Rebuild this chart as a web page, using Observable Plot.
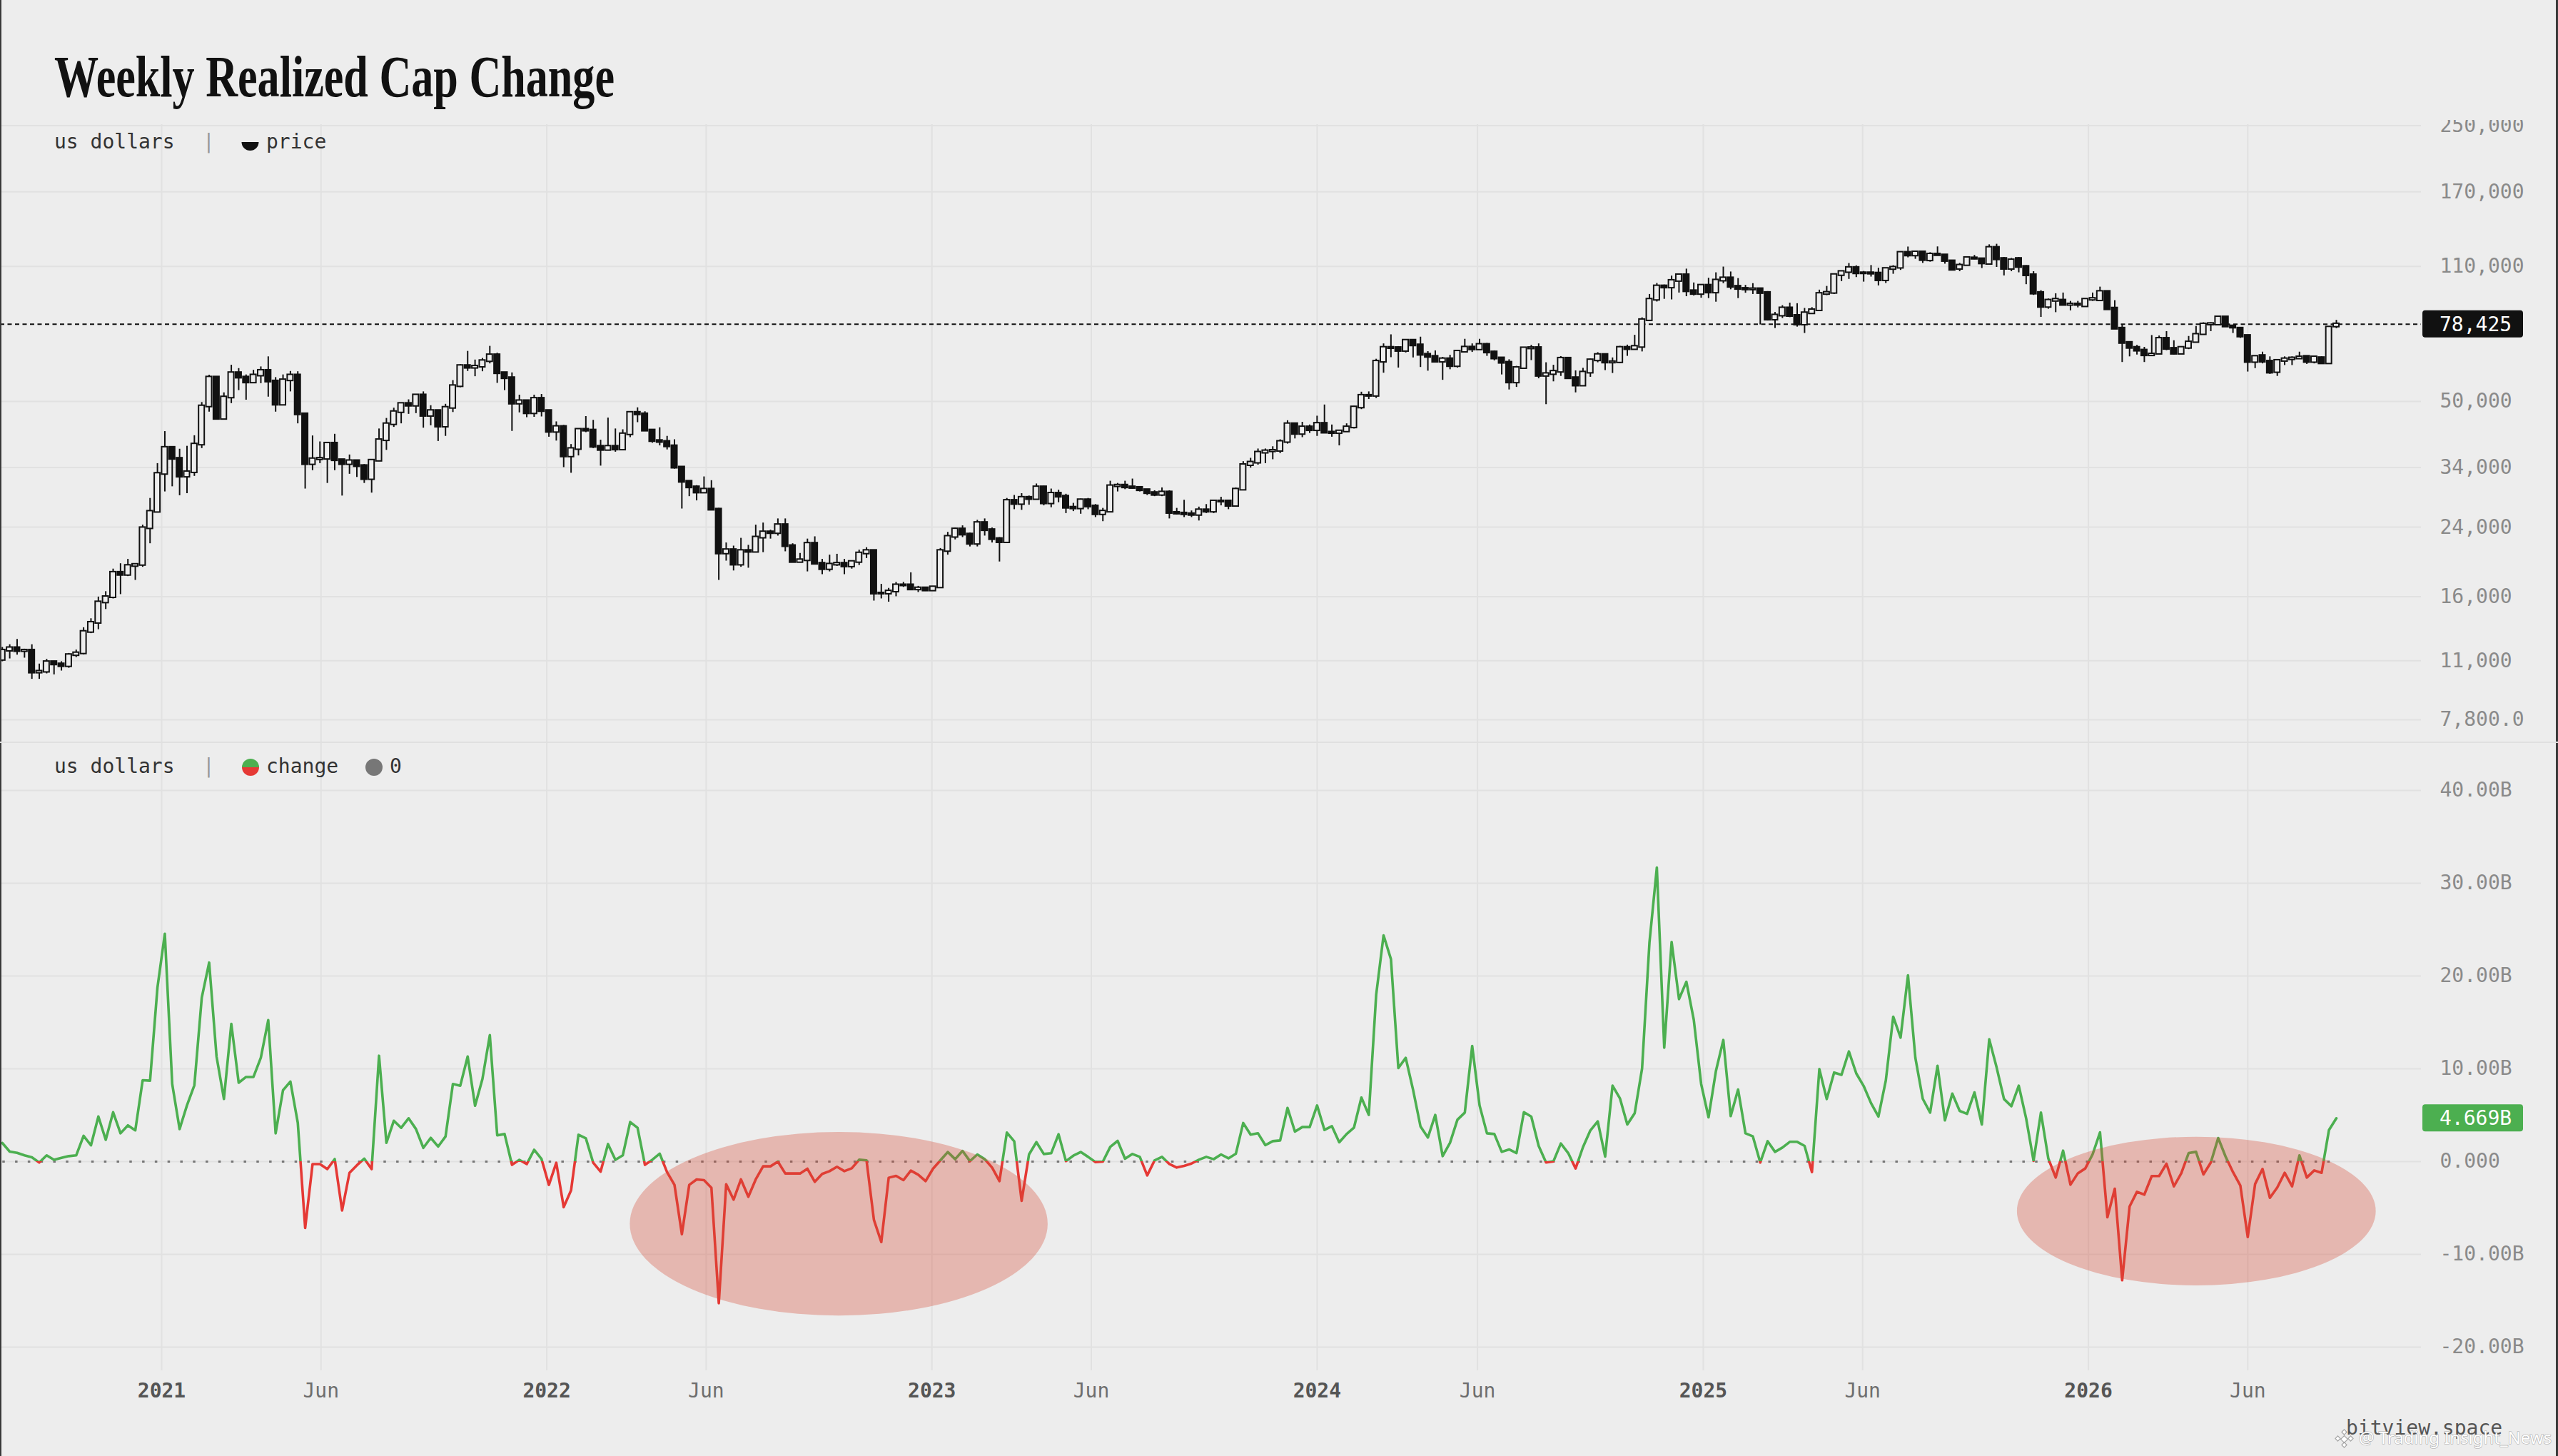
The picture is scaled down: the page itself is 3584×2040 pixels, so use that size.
<!DOCTYPE html>
<html>
<head>
<meta charset="utf-8">
<script src="https://cdn.jsdelivr.net/npm/d3@7"></script>
<script src="https://cdn.jsdelivr.net/npm/@observablehq/plot@0.6"></script>
<style>
html,body{margin:0;padding:0;background:#ededed;}
#root{position:relative;width:3584px;height:2040px;overflow:hidden;background:#ededed;}
#price{position:absolute;left:0;top:168px;}
#change{position:absolute;left:0;top:1040px;}
#overlay{position:absolute;left:0;top:0;pointer-events:none;}
</style>
</head>
<body>
<div id="root">
  <div id="price"></div>
  <div id="change"></div>
  <svg id="overlay" width="3584" height="2040" xmlns="http://www.w3.org/2000/svg">
    <rect x="0" y="0" width="2" height="2040" fill="#3a3a3a"/>
    <rect x="3581" y="0" width="3" height="2040" fill="#3a3a3a"/>
    <rect x="0" y="1039" width="3584" height="2" fill="#e0e0e0"/>
    <text x="76" y="135" font-family="Liberation Serif" font-weight="bold" font-size="82" textLength="785" lengthAdjust="spacingAndGlyphs" fill="#111">Weekly Realized Cap Change</text>
    <g font-family="DejaVu Sans Mono" font-size="28">
      <text x="76" y="208" fill="#333">us dollars</text>
      <text x="284" y="208" fill="#999">|</text>
      <path d="M338.5,199 A12,12 0 0 0 362.5,199 Z" fill="#111"/>
      <text x="373" y="208" fill="#333">price</text>
      <text x="76" y="1083" fill="#333">us dollars</text>
      <text x="284" y="1083" fill="#999">|</text>
      <path d="M339,1075 A12,12 0 0 1 363,1075 Z" fill="#4caf50"/>
      <path d="M339,1075 A12,12 0 0 0 363,1075 Z" fill="#e53935"/>
      <text x="373" y="1083" fill="#333">change</text>
      <circle cx="524" cy="1075" r="12" fill="#777"/>
      <text x="546" y="1083" fill="#333">0</text>
      <text x="3287" y="2010" fill="#555">bitview.space</text>
    </g>
    <g fill="#fff" stroke="rgba(140,140,140,0.75)" stroke-width="1.2">
      <rect x="3281" y="2013" width="7" height="7" transform="rotate(45 3284.5 2016.5)"/>
      <rect x="3273" y="2013" width="5" height="5" transform="rotate(45 3275.5 2015.5)"/>
      <rect x="3291" y="2013" width="5" height="5" transform="rotate(45 3293.5 2015.5)"/>
      <rect x="3282" y="2004" width="5" height="5" transform="rotate(45 3284.5 2006.5)"/>
      <rect x="3282" y="2022" width="5" height="5" transform="rotate(45 3284.5 2024.5)"/>
      <text x="3305" y="2023" font-family="Noto Sans" font-size="24" textLength="270" lengthAdjust="spacingAndGlyphs" paint-order="stroke">@ Trading Insight_News</text>
    </g>
  </svg>
</div>
<script>
// ---------- data (weekly, weeks starting Monday 2020-08-03) ----------
// BTC weekly candles, thousands of USD
const open = [
11.07,11.68,11.85,11.65,11.68,10.28,10.33,10.92,10.78,10.67,
11.38,11.50,13.03,13.74,15.48,15.96,18.40,18.18,19.15,19.27,
23.87,26.27,32.78,38.15,35.79,32.26,33.10,38.90,48.60,57.50,
45.20,51.20,59.00,57.50,55.90,58.20,59.80,56.20,49.10,56.60,
58.20,46.40,34.70,35.70,35.80,39.10,35.50,34.70,35.30,34.30,
31.80,35.40,39.90,43.80,47.00,49.30,48.80,51.80,46.00,47.30,
43.20,48.20,54.70,61.50,60.90,61.30,63.30,65.50,59.00,57.30,
49.40,50.10,46.70,50.80,47.30,41.90,43.10,36.30,37.90,42.40,
42.20,38.40,37.70,38.40,37.80,41.30,46.80,46.40,42.20,39.70,
39.50,38.50,34.00,31.30,30.30,29.40,29.90,26.60,20.60,21.00,
19.30,20.90,20.80,22.60,23.30,23.20,24.30,21.50,19.60,19.80,
21.80,19.40,18.80,19.30,19.40,19.10,19.60,20.60,20.90,16.30,
16.30,16.50,17.10,17.10,16.70,16.80,16.60,16.90,20.90,22.70,
23.70,23.00,21.80,24.60,23.60,22.40,22.00,28.00,27.50,28.50,
28.30,30.30,27.60,29.20,28.70,26.90,26.80,28.10,27.10,25.90,
26.30,30.50,30.60,30.30,30.20,29.80,29.30,29.00,29.40,26.10,
26.00,25.90,25.80,26.50,26.30,27.90,27.90,27.20,29.90,34.50,
35.00,37.10,37.40,37.50,39.50,43.80,41.40,43.00,42.30,43.90,
41.70,41.60,42.00,43.00,48.30,51.70,51.70,63.10,68.40,68.30,
67.20,71.30,69.40,65.70,64.90,63.10,64.00,61.50,66.90,68.50,
67.80,69.60,66.60,64.30,62.70,55.90,60.80,68.20,68.30,58.10,
58.70,59.50,64.20,57.30,54.90,59.20,63.60,65.60,62.80,62.90,
68.40,67.90,68.80,80.40,90.60,97.90,97.30,101.10,104.50,95.20,
93.70,98.30,94.50,101.30,102.60,97.70,96.50,96.20,96.30,94.20,
80.70,82.60,86.10,82.40,78.40,83.70,85.20,93.70,94.30,104.60,
106.50,109.00,105.70,105.70,105.50,101.50,108.40,109.20,119.10,117.30,
119.40,114.00,117.90,117.30,113.30,108.50,110.90,115.30,114.70,111.70,
122.60,114.90,108.50,114.90,109.70,104.50,94.20,86.90,90.00,90.10,
87.90,88.10,87.20,90.60,90.30,94.80,86.00,76.50,70.40,68.40,
67.30,65.50,66.10,72.10,68.00,66.10,68.40,70.80,74.10,78.40,
78.40,81.70,77.50,76.50,73.30,63.00,65.20,63.10,59.40,63.40,
64.00,64.30,64.90,63.00,64.40,62.50,77.50];
const high = [
11.90,12.09,12.47,11.78,12.09,10.80,11.10,10.98,10.95,11.49,
11.72,13.35,14.07,15.97,16.48,18.80,19.40,19.90,19.40,24.30,
28.40,34.80,41.95,38.20,37.85,38.50,40.95,49.70,58.30,57.60,
52.60,61.80,60.60,58.40,60.00,61.20,64.90,57.50,58.40,59.60,
59.50,46.60,40.90,39.50,39.30,41.30,35.60,36.60,35.40,34.60,
35.40,42.60,45.30,48.10,49.40,50.50,51.90,52.90,48.80,47.40,
49.20,56.50,62.00,67.00,63.70,64.30,69.00,66.30,59.30,59.10,
51.90,50.30,51.90,52.10,47.50,44.40,43.50,38.90,42.60,45.80,
44.80,39.90,45.40,42.60,42.40,46.90,48.20,47.10,42.40,42.90,
40.80,40.00,34.20,31.40,30.60,32.20,31.50,26.80,21.90,21.50,
22.50,21.60,24.30,24.60,23.60,25.20,25.20,21.80,20.60,22.40,
22.70,19.90,20.40,20.50,19.90,19.70,21.00,21.30,21.00,17.20,
16.80,17.40,17.40,18.40,17.00,16.90,17.00,21.20,23.30,23.90,
24.20,23.20,25.00,25.20,23.90,22.60,28.40,28.90,29.20,28.80,
30.90,30.50,30.00,29.80,29.10,27.60,28.30,28.40,27.40,26.80,
31.40,31.00,31.40,31.80,30.30,29.90,29.70,30.20,29.70,26.80,
28.10,26.40,27.00,27.40,28.00,28.60,28.00,30.20,35.20,35.90,
37.90,37.90,38.40,40.00,44.70,44.00,44.30,43.60,45.90,49.00,
43.60,42.20,43.90,48.60,52.80,52.90,64.00,70.00,73.80,68.90,
71.70,71.40,72.80,66.90,67.20,64.70,65.50,67.40,71.90,70.00,
71.90,70.20,67.20,64.50,63.80,61.40,68.40,69.40,70.00,62.70,
61.80,65.00,64.50,59.80,60.70,64.10,66.50,65.70,64.50,69.00,
69.50,73.60,81.50,93.40,99.60,98.70,104.00,105.20,108.30,99.90,
98.90,102.70,106.00,109.60,106.50,102.50,98.50,99.50,96.50,95.00,
84.10,87.50,88.80,88.50,86.10,86.50,95.80,97.90,104.90,106.70,
111.90,110.40,106.80,110.60,108.90,108.50,110.50,119.50,123.20,120.20,
119.80,119.20,123.30,117.50,113.60,112.00,116.20,117.30,115.20,124.80,
125.20,115.90,115.30,115.90,110.50,106.70,95.50,91.00,93.80,94.20,
89.70,89.70,91.00,94.20,97.50,95.20,90.10,78.10,70.50,69.40,
68.60,73.50,73.30,75.20,71.30,68.80,73.10,77.50,79.20,79.20,
82.00,82.00,78.10,76.70,73.50,65.00,66.70,64.90,63.70,64.90,
64.90,66.70,65.10,64.90,64.90,77.30,80.30];
const low = [
10.95,11.13,11.38,11.18,9.88,9.88,10.20,10.14,10.37,10.54,
11.22,11.40,12.90,13.20,14.85,15.80,16.20,18.00,17.60,19.00,
21.80,26.10,29.50,30.40,28.85,29.20,32.30,38.00,47.00,44.90,
45.00,49.40,53.30,50.40,55.70,55.50,51.30,47.00,48.80,52.90,
43.90,30.00,33.40,34.80,31.00,33.40,28.80,32.70,32.10,31.00,
29.30,35.20,37.60,43.00,43.90,46.40,46.60,42.80,43.40,39.60,
40.80,46.90,54.20,59.60,57.80,59.50,62.30,55.60,53.30,42.00,
46.80,45.50,45.60,45.70,40.60,39.70,34.00,32.90,36.40,41.70,
38.00,34.30,37.50,37.20,37.60,40.50,44.20,42.10,39.20,38.60,
37.70,33.70,26.70,28.70,28.00,29.30,26.50,17.60,19.70,18.60,
19.00,18.90,20.70,20.70,22.40,22.80,20.80,19.50,19.50,18.50,
19.30,18.20,18.50,19.10,18.20,18.80,19.20,20.00,15.60,15.80,
15.50,16.00,16.90,16.60,16.40,16.50,16.55,16.85,20.40,22.30,
22.60,21.40,21.40,22.80,21.90,19.60,21.90,26.60,26.50,27.30,
28.20,27.20,26.90,27.70,26.00,26.30,25.90,26.60,25.40,24.80,
26.20,29.50,29.90,30.00,29.50,28.90,28.70,28.70,25.20,25.80,
25.40,25.40,24.90,26.00,26.00,27.20,26.60,27.10,29.80,33.90,
34.50,34.80,35.60,36.90,39.00,40.20,40.50,41.50,40.80,41.50,
40.60,38.60,41.80,42.60,47.70,50.60,50.90,59.00,64.60,60.80,
66.40,64.50,61.00,59.70,62.80,56.60,60.20,60.80,66.40,66.60,
67.60,65.10,63.40,58.40,53.50,54.30,60.60,63.50,57.10,49.10,
56.10,57.90,57.20,52.60,54.60,57.60,62.70,59.90,58.90,62.40,
65.10,67.50,66.80,80.20,89.40,90.80,90.50,94.20,92.20,92.60,
91.40,91.20,89.30,99.50,96.00,91.20,94.10,93.40,78.20,80.00,
76.60,81.20,81.60,77.20,74.40,83.10,85.10,92.80,93.40,100.70,
102.00,103.10,100.40,103.40,98.20,99.60,105.10,107.50,115.70,114.70,
112.00,112.80,117.00,111.50,107.20,106.70,110.50,114.40,108.70,110.90,
109.40,104.10,106.70,106.00,98.90,92.90,81.70,85.70,84.00,87.60,
84.90,86.40,86.80,89.70,90.10,85.50,76.30,62.80,64.90,65.60,
62.80,65.50,65.80,67.30,65.60,65.90,67.70,70.60,73.90,75.20,
78.10,77.30,74.40,72.30,59.40,60.60,62.30,58.60,57.90,61.70,
61.70,64.00,62.10,62.30,62.10,62.30,76.50];
const close = [
11.68,11.85,11.65,11.68,10.28,10.33,10.92,10.78,10.67,11.38,
11.50,13.03,13.74,15.48,15.96,18.40,18.18,19.15,19.27,23.87,
26.27,32.78,38.15,35.79,32.26,33.10,38.90,48.60,57.50,45.20,
51.20,59.00,57.50,55.90,58.20,59.80,56.20,49.10,56.60,58.20,
46.40,34.70,35.70,35.80,39.10,35.50,34.70,35.30,34.30,31.80,
35.40,39.90,43.80,47.00,49.30,48.80,51.80,46.00,47.30,43.20,
48.20,54.70,61.50,60.90,61.30,63.30,65.50,59.00,57.30,49.40,
50.10,46.70,50.80,47.30,41.90,43.10,36.30,37.90,42.40,42.20,
38.40,37.70,38.40,37.80,41.30,46.80,46.40,42.20,39.70,39.50,
38.50,34.00,31.30,30.30,29.40,29.90,26.60,20.60,21.00,19.30,
20.90,20.80,22.60,23.30,23.20,24.30,21.50,19.60,19.80,21.80,
19.40,18.80,19.30,19.40,19.10,19.60,20.60,20.90,16.30,16.30,
16.50,17.10,17.10,16.70,16.80,16.60,16.90,20.90,22.70,23.70,
23.00,21.80,24.60,23.60,22.40,22.00,28.00,27.50,28.50,28.30,
30.30,27.60,29.20,28.70,26.90,26.80,28.10,27.10,25.90,26.30,
30.50,30.60,30.30,30.20,29.80,29.30,29.00,29.40,26.10,26.00,
25.90,25.80,26.50,26.30,27.90,27.90,27.20,29.90,34.50,35.00,
37.10,37.40,37.50,39.50,43.80,41.40,43.00,42.30,43.90,41.70,
41.60,42.00,43.00,48.30,51.70,51.70,63.10,68.40,68.30,67.20,
71.30,69.40,65.70,64.90,63.10,64.00,61.50,66.90,68.50,67.80,
69.60,66.60,64.30,62.70,55.90,60.80,68.20,68.30,58.10,58.70,
59.50,64.20,57.30,54.90,59.20,63.60,65.60,62.80,62.90,68.40,
67.90,68.80,80.40,90.60,97.90,97.30,101.10,104.50,95.20,93.70,
98.30,94.50,101.30,102.60,97.70,96.50,96.20,96.30,94.20,80.70,
82.60,86.10,82.40,78.40,83.70,85.20,93.70,94.30,104.60,106.50,
109.00,105.70,105.70,105.50,101.50,108.40,109.20,119.10,117.30,119.40,
114.20,117.90,117.50,113.60,107.90,110.50,115.50,115.10,112.00,122.60,
114.70,108.50,114.00,109.70,104.50,93.90,86.90,90.10,90.60,87.90,
88.10,87.90,90.60,91.00,94.80,85.70,76.50,70.40,68.40,67.30,
65.50,65.80,72.10,68.00,66.10,68.40,70.60,73.80,78.40,78.60,
81.70,77.50,77.00,73.10,63.00,64.90,63.10,59.20,63.40,64.00,
64.30,64.70,63.00,64.70,62.50,77.00,78.425];
// weekly realized cap change, billions of USD
const change = [
2.0,1.08,0.94,0.67,0.46,-0.1,0.67,0.19,0.40,0.59,
0.67,2.78,1.75,4.86,2.35,5.32,3.05,3.91,3.37,8.77,
8.72,18.75,24.55,8.36,3.51,6.07,8.23,17.67,21.45,11.33,
6.75,14.84,8.50,9.12,9.12,11.20,15.25,3.05,7.69,8.63,
4.18,-7.15,-0.27,-0.27,-0.81,0.27,-5.26,-1.21,-0.40,0.32,
-0.81,11.41,2.02,4.40,3.64,4.67,3.51,1.48,2.56,1.62,
2.70,8.36,8.18,11.33,6.02,8.90,13.63,2.83,2.97,-0.35,
0.19,-0.27,1.27,0.27,-2.51,-0.13,-4.91,-3.10,2.89,2.51,
-0.13,-1.08,1.89,0.19,0.67,4.26,3.64,-0.35,0.2,0.85,
-1.15,-2.51,-7.82,-2.51,-1.92,-2.0,-2.82,-15.26,-2.44,-4.10,
-1.92,-3.79,-1.92,-0.51,-0.51,0,-1.28,-1.28,-1.28,-0.77,
-2.18,-1.33,-1.03,-0.56,-1.03,-0.72,0.2,0.13,-6.28,-8.67,
-1.74,-1.54,-2.0,-0.97,-1.41,-2.1,-0.77,0.13,1.03,0.26,
1.15,0.05,0.77,0.26,-0.64,-2.1,3.13,2.18,-4.23,0.77,
2.10,0.82,0.90,2.95,0.05,0.64,1.03,0.51,-0.05,0,
1.59,2.23,0.31,0.82,0.51,-1.49,0.13,0.51,-0.26,-0.64,
-0.46,-0.21,0.2,0.51,0.26,0.77,0.35,0.84,4.16,2.9,
3.05,1.77,2.2,2.28,5.79,3.23,3.72,3.72,6.05,3.41,
3.82,2.08,2.97,3.67,6.9,5.03,17.97,24.38,21.82,10.08,
11.18,7.72,3.79,2.59,5.03,0.59,2.03,4.51,5.28,12.46,
6.05,3.05,2.97,1.05,1.31,0.92,5.33,4.85,1.69,-0.1,
0.03,1.95,0.92,-0.74,1.56,3.36,4.33,0.54,8.18,6.82,
4.0,5.21,10.03,23.62,31.69,12.28,23.67,17.51,19.38,15.28,
8.36,4.77,9.77,13.1,4.9,7.77,3.05,2.72,-0.1,2.2,
1.05,1.51,2.13,2.13,1.69,-1.13,9.97,6.74,9.6,9.35,
11.87,9.5,8.15,6.3,4.85,8.74,15.62,13.36,20.08,11.18,
6.77,5.28,10.33,4.44,7.33,5.46,5.15,7.46,4.0,13.18,
10.15,6.74,5.97,8.18,4.64,0.08,5.28,0.33,-1.72,1.18,
-2.49,-1.26,-0.74,0.79,3.15,-6.0,-2.92,-12.79,-4.85,-3.26,
-3.56,-1.56,-1.56,-0.23,-2.67,-1.26,0.92,1.05,-1.38,-0.1,
2.54,0.54,-1.13,-2.59,-8.13,-2.41,-0.79,-3.9,-2.79,-1.21,
-2.67,0.67,-1.72,-0.95,-1.21,3.41,4.669];

const firstWeek = "2020-08-03";
const priceTicks = [7800, 11000, 16000, 24000, 34000, 50000, 110000, 170000, 250000];
const priceTickLabels = ["7,800.0", "11,000", "16,000", "24,000", "34,000", "50,000", "110,000", "170,000", "250,000"];
const changeTicks = [40, 30, 20, 10, 0, -10, -20];
const changeTickLabels = ["40.00B", "30.00B", "20.00B", "10.00B", "0.000", "-10.00B", "-20.00B"];
const yearTicks = ["2021-01-01", "2022-01-01", "2023-01-01", "2024-01-01", "2025-01-01", "2026-01-01"];
const yearLabels = ["2021", "2022", "2023", "2024", "2025", "2026"];
const junTicks = ["2021-06-01", "2022-06-01", "2023-06-01", "2024-06-01", "2025-06-01", "2026-06-01"];
const junLabels = ["Jun", "Jun", "Jun", "Jun", "Jun", "Jun"];
// annotation ellipses (bounds in data units)
const ellipseX1 = ["2022-03-21", "2025-10-25T14:00Z"];
const ellipseX2 = ["2023-04-21", "2026-09-30T15:00Z"];
const ellipseY1 = [3.15, 2.64];
const ellipseY2 = [-16.64, -13.38];

// ---------- build ----------
const bg = "#ededed", grid = "#e1e1e1", ink = "#111";
const green = "#4caf50", red = "#e53935";
const t0 = new Date(firstWeek + "T00:00:00Z").getTime();
const dates = close.map((_, i) => new Date(t0 + i * 7 * 864e5));
const candles = dates.map((date, i) => ({date, open: open[i] * 1000, high: high[i] * 1000, low: low[i] * 1000, close: close[i] * 1000}));
const changes = dates.map((date, i) => ({date, value: change[i]}));
const lastPrice = candles[candles.length - 1].close;
const lastChange = change[change.length - 1];
const toDate = s => new Date(s.length === 10 ? s + "T00:00:00Z" : s);
const yearDates = yearTicks.map(toDate), junDates = junTicks.map(toDate);
const gridDates = [...yearDates, ...junDates];
const xDomain = [new Date("2020-08-01T03:00:00Z"), new Date("2026-11-12T12:00:00Z")];

const W = 3584, MR = 192;
const baseStyle = {background: "transparent", fontFamily: "DejaVu Sans Mono", fontSize: "28px", color: "#8a8a8a", overflow: "hidden"};

function lastLabel(value, text, fill) {
  return (index, scales, values, dimensions) => {
    const y = scales.y(value);
    const x0 = dimensions.width - dimensions.marginRight + 2;
    const g = d3.create("svg:g");
    g.append("rect").attr("x", x0).attr("y", y - 19).attr("width", 141).attr("height", 38).attr("rx", 4).attr("fill", fill);
    g.append("text").attr("x", x0 + 24).attr("y", y).attr("dy", "0.36em").attr("text-anchor", "start")
      .attr("fill", "#fff").attr("font-size", 28).attr("font-family", "DejaVu Sans Mono").text(text);
    return g.node();
  };
}
const tickText = (ticks, labels) => Plot.text(ticks, {
  y: d => d, text: (d, i) => labels[i], frameAnchor: "right", dx: 26, textAnchor: "start", fill: "#8a8a8a"
});

const pricePlot = Plot.plot({
  width: W, height: 872,
  marginTop: 6, marginBottom: 0, marginLeft: 0, marginRight: MR,
  style: baseStyle,
  x: {type: "utc", domain: xDomain, axis: null},
  y: {type: "log", domain: [6823, 251670], axis: null},
  marks: [
    Plot.ruleY(priceTicks, {stroke: grid, strokeWidth: 2}),
    Plot.ruleX(gridDates, {stroke: grid, strokeWidth: 2}),
    Plot.ruleY([lastPrice], {stroke: ink, strokeWidth: 2, strokeDasharray: "6,4.5"}),
    Plot.ruleX(candles, {x: "date", y1: "low", y2: "high", stroke: ink, strokeWidth: 2}),
    Plot.rect(candles, {filter: d => d.close >= d.open, x1: "date", x2: "date", y1: "open", y2: "close",
      insetLeft: -4, insetRight: -4, insetTop: -1, insetBottom: -1, fill: bg, stroke: ink, strokeWidth: 2}),
    Plot.rect(candles, {filter: d => d.close < d.open, x1: "date", x2: "date", y1: "open", y2: "close",
      insetLeft: -4, insetRight: -4, insetTop: -1, insetBottom: -1, fill: ink, stroke: ink, strokeWidth: 2}),
    tickText(priceTicks, priceTickLabels),
    lastLabel(lastPrice, d3.format(",")(lastPrice), ink)
  ]
});
document.getElementById("price").appendChild(pricePlot);

let zeroY = null;
const captureZero = (index, scales) => { zeroY = scales.y(0); return null; };

const ellipses = (index, scales) => {
  const g = d3.create("svg:g");
  for (let k = 0; k < ellipseX1.length; k++) {
    const x1 = scales.x(toDate(ellipseX1[k])), x2 = scales.x(toDate(ellipseX2[k]));
    const y1 = scales.y(ellipseY1[k]), y2 = scales.y(ellipseY2[k]);
    g.append("ellipse").attr("cx", (x1 + x2) / 2).attr("cy", (y1 + y2) / 2)
      .attr("rx", Math.abs(x2 - x1) / 2).attr("ry", Math.abs(y2 - y1) / 2)
      .attr("fill", "rgb(214,72,52)").attr("fill-opacity", 0.33);
  }
  return g.node();
};

const H2 = 1000;
const changePlot = Plot.plot({
  width: W, height: H2,
  marginTop: 0, marginBottom: 120, marginLeft: 0, marginRight: MR,
  style: baseStyle,
  x: {type: "utc", domain: xDomain, axis: null},
  y: {domain: [-22.538, 45.154], axis: null},
  marks: [
    Plot.ruleY(changeTicks, {stroke: grid, strokeWidth: 2}),
    Plot.ruleX(gridDates, {stroke: grid, strokeWidth: 2}),
    captureZero,
    Plot.line(changes, {x: "date", y: 0, stroke: "#777", strokeWidth: 3.2, strokeDasharray: "3.5,14.3", strokeLinecap: "butt"}),
    Plot.line(changes, {x: "date", y: "value", stroke: green, strokeWidth: 3.6}),
    Plot.line(changes, {x: "date", y: "value", stroke: red, strokeWidth: 3.6}),
    ellipses,
    tickText(changeTicks, changeTickLabels),
    Plot.text(yearDates, {x: d => d, text: (d, i) => yearLabels[i], frameAnchor: "bottom", dy: 37, fontWeight: "bold", fill: "#555"}),
    Plot.text(junDates, {x: d => d, text: (d, i) => junLabels[i], frameAnchor: "bottom", dy: 37, fill: "#6e6e6e"}),
    lastLabel(lastChange, lastChange.toFixed(3) + "B", green)
  ]
});

// split the change line at zero: green above, red below (nested svg viewports clip)
const svgNS = "http://www.w3.org/2000/svg";
function clipInto(g, y, h) {
  if (!g || !isFinite(y) || h <= 0) return;
  const s = document.createElementNS(svgNS, "svg");
  s.setAttribute("x", 0); s.setAttribute("y", y);
  s.setAttribute("width", W); s.setAttribute("height", h);
  s.setAttribute("viewBox", `0 ${y} ${W} ${h}`);
  s.setAttribute("overflow", "hidden");
  s.style.overflow = "hidden";
  g.parentNode.insertBefore(s, g);
  s.appendChild(g);
}
const posG = changePlot.querySelector(`g[stroke="${green}"]`);
const negG = changePlot.querySelector(`g[stroke="${red}"]`);
if (zeroY != null && isFinite(zeroY)) {
  clipInto(posG, -20, zeroY + 20);
  clipInto(negG, zeroY, H2 - zeroY);
}
document.getElementById("change").appendChild(changePlot);
</script>
</body>
</html>
